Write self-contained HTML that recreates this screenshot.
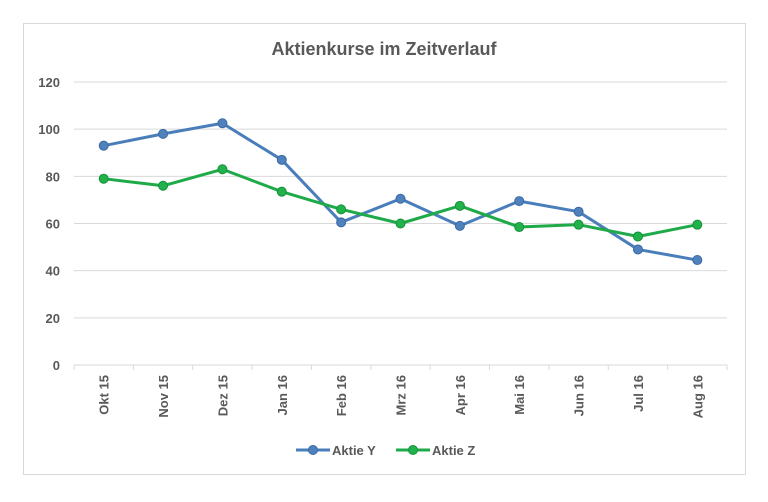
<!DOCTYPE html>
<html><head><meta charset="utf-8"><style>
body{margin:0;background:#fff;width:768px;height:497px;overflow:hidden;font-family:"Liberation Sans",sans-serif}
</style></head><body>
<svg width="768" height="497">
<rect x="23.5" y="23.5" width="722" height="451" fill="#fff" stroke="#d9d9d9"/>
<text x="384" y="55" text-anchor="middle" font-size="18" font-weight="bold" fill="#595959">Aktienkurse im Zeitverlauf</text>
<g id="grid"></g><g id="axes"></g><g id="series"></g>
<g>
<g>
<line x1="296" y1="450" x2="330" y2="450" stroke="#4a7ebb" stroke-width="3"/>
<circle cx="313" cy="450" r="4.5" fill="#4f81bd" stroke="#3a6aa3"/>
<text x="332" y="455" font-size="13" font-weight="bold" fill="#595959">Aktie Y</text></g>
<g>
<line x1="396" y1="450" x2="430" y2="450" stroke="#1faa4a" stroke-width="3"/>
<circle cx="413" cy="450" r="4.5" fill="#22b24c" stroke="#17903a"/>
<text x="432" y="455" font-size="13" font-weight="bold" fill="#595959">Aktie Z</text></g>
</g>
</svg>
<script>
const categories=["Okt 15","Nov 15","Dez 15","Jan 16","Feb 16","Mrz 16","Apr 16","Mai 16","Jun 16","Jul 16","Aug 16"];
const aktieY=[93,98,102.5,87,60.5,70.5,59,69.5,65,49,44.5];
const aktieZ=[79,76,83,73.5,66,60,67.5,58.5,59.5,54.5,59.5];
const yTicks=[0,20,40,60,80,100,120];
const NS="http://www.w3.org/2000/svg";
const x0=74,x1=727,yb=365,yt=82,ymax=120;
const bw=(x1-x0)/categories.length;
const X=i=>x0+bw*(i+0.5);
const Y=v=>yb-(v/ymax)*(yb-yt);
function mk(t,a,p){const e=document.createElementNS(NS,t);for(const k in a)e.setAttribute(k,a[k]);p.appendChild(e);return e;}
const grid=document.getElementById('grid'),axes=document.getElementById('axes'),ser=document.getElementById('series');
yTicks.forEach(v=>{
 const l=mk('line',{x1:x0,x2:x1,y1:Y(v),y2:Y(v),stroke:'#d9d9d9','stroke-width':1},grid);
 
 
 const t=mk('text',{x:60,y:Y(v)+5,'text-anchor':'end','font-size':13,'font-weight':'bold',fill:'#595959'},axes);
 t.textContent=v;
 
 
});
for(let i=0;i<=categories.length;i++){mk('line',{x1:x0+bw*i,x2:x0+bw*i,y1:yb,y2:yb+5,stroke:'#d9d9d9'},axes);}
categories.forEach((c,i)=>{
 const t=mk('text',{transform:`translate(${X(i)+5},375) rotate(-90)`,'text-anchor':'end','font-size':13,'font-weight':'bold',fill:'#595959'},axes);
 t.textContent=c;
 
 
});
function draw(vals,col,fill,stroke,name){
 const p=mk('polyline',{points:vals.map((v,i)=>X(i)+','+Y(v)).join(' '),fill:'none',stroke:col,'stroke-width':3,'stroke-linejoin':'round'},ser);
 
 
 vals.forEach((v,i)=>{const c=mk('circle',{cx:X(i),cy:Y(v),r:4.5,fill:fill,stroke:stroke},ser);
 
 });
}
draw(aktieY,'#4a7ebb','#4f81bd','#3a6aa3','aktie-y');
draw(aktieZ,'#1faa4a','#22b24c','#17903a','aktie-z');
</script>
</body></html>
